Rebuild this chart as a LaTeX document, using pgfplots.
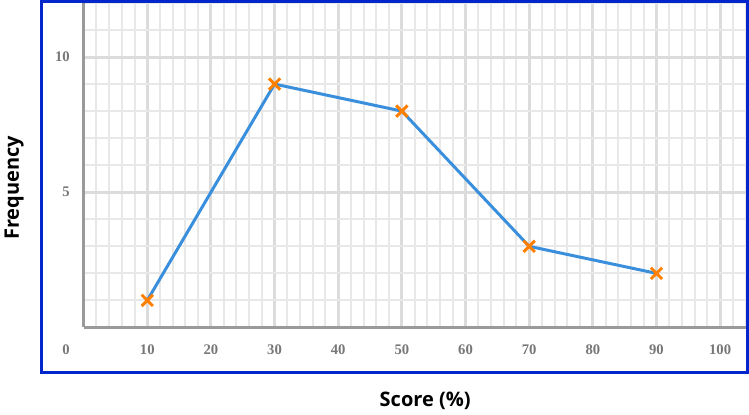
\documentclass[border=0pt]{standalone}
\usepackage{fontspec}
\usepackage{pgfplots}
\pgfplotsset{compat=1.18}
\newfontfamily\tickfont{Liberation Serif}
\newfontfamily\labelfont{Open Sans}

\definecolor{lineblue}{HTML}{3A8FDD}
\definecolor{markorange}{HTML}{FF7F00}
\definecolor{frameblue}{HTML}{0026CC}
\definecolor{axisgray}{HTML}{9A9A9A}
\definecolor{majorgrid}{HTML}{DCDCDC}
\definecolor{minorgrid}{HTML}{E8E8E8}
\definecolor{ticktext}{HTML}{777777}

\begin{document}
\begin{tikzpicture}
% page size, 749 x 414 px at 0.75pt per px
\path[use as bounding box] (-62.7pt,-64.9pt) rectangle (499.05pt,245.6pt);
\begin{axis}[
    anchor=south west, at={(0,0)},
    scale only axis,
    width=496.5pt, height=243.4pt,
    xmin=0, xmax=104,
    ymin=0, ymax=12,
    axis lines=left,
    axis line style={-, axisgray, line width=2.25pt},
    xtick={10,20,...,100},
    minor xtick={2,4,...,104},
    ytick={5,10},
    minor ytick={1,...,12},
    major tick length=0pt, minor tick length=0pt,
    grid=both,
    major grid style={majorgrid, line width=2.25pt},
    minor grid style={minorgrid, line width=1.5pt},
    /pgf/number format/assume math mode=true,
    ticklabel style={font=\tickfont\bfseries\fontsize{11}{13}\selectfont, text=ticktext, inner sep=0pt},
    xticklabel style={anchor=north, yshift=-12.5pt},
    yticklabel style={anchor=east, xshift=-10.2pt},
    xlabel={Score (\%)},
    ylabel={Frequency},
    label style={font=\labelfont\bfseries\fontsize{15}{18}\selectfont, text=black},
    xlabel style={at={(axis description cs:0.516,-0.226)}, anchor=center},
    ylabel style={at={(axis description cs:-0.105,0.43)}, anchor=center},
    clip=false,
]
\addplot[color=lineblue, line width=2.25pt, mark=x,
         mark size=6pt, mark options={color=markorange, line width=2.2pt}]
    coordinates {(10,1) (30,9) (50,8) (70,3) (90,2)};
\node[anchor=north east, inner sep=0pt, xshift=-10.2pt, yshift=-12.5pt,
      font=\tickfont\bfseries\fontsize{11}{13}\selectfont, text=ticktext]
      at (axis cs:0,0) {0};
\end{axis}
\draw[frameblue, line width=2.25pt] (-31.6pt,-34.1pt) rectangle (497.9pt,244.5pt);
\end{tikzpicture}
\end{document}
